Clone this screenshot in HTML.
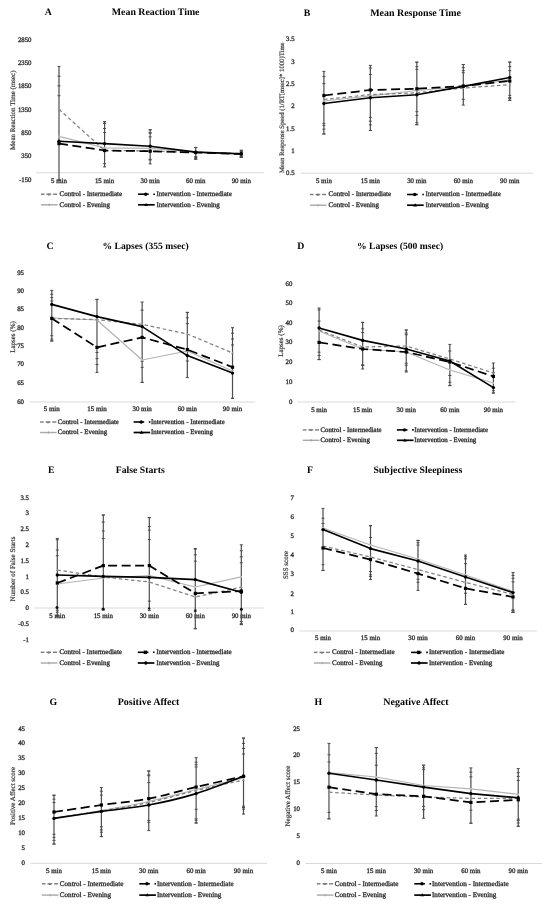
<!DOCTYPE html>
<html><head><meta charset="utf-8"><title>Figure</title>
<style>html,body{margin:0;padding:0;background:#fff;width:550px;height:908px;overflow:hidden}svg{display:block;font-family:"Liberation Serif", serif;will-change:transform;filter:blur(0.3px);text-rendering:geometricPrecision}</style>
</head><body>
<svg width="550" height="908" viewBox="0 0 550 908">
<rect width="550" height="908" fill="#ffffff"/>
<g><text x="44.8" y="15" font-size="9.8" font-weight="bold" fill="#000">A</text><text x="111.8" y="15.3" font-size="9.85" font-weight="bold" fill="#000">Mean Reaction Time</text><text x="31.5" y="41.65" font-size="6.8" fill="#383838" text-anchor="end" stroke="#383838" stroke-width="0.36">2850</text><text x="31.5" y="65.05" font-size="6.8" fill="#383838" text-anchor="end" stroke="#383838" stroke-width="0.36">2350</text><text x="31.5" y="88.35" font-size="6.8" fill="#383838" text-anchor="end" stroke="#383838" stroke-width="0.36">1850</text><text x="31.5" y="112.15" font-size="6.8" fill="#383838" text-anchor="end" stroke="#383838" stroke-width="0.36">1350</text><text x="31.5" y="135.05" font-size="6.8" fill="#383838" text-anchor="end" stroke="#383838" stroke-width="0.36">850</text><text x="31.5" y="158.45" font-size="6.8" fill="#383838" text-anchor="end" stroke="#383838" stroke-width="0.36">350</text><text x="31.5" y="181.75" font-size="6.8" fill="#383838" text-anchor="end" stroke="#383838" stroke-width="0.36">-150</text><text transform="translate(12.7,110.2) rotate(-90)" x="0" y="2.4" font-size="7" fill="#3a3a3a" text-anchor="middle" stroke="#3a3a3a" stroke-width="0.2">Mean Reaction Time (msec)</text><line x1="36.2" y1="172.8" x2="264.1" y2="172.8" stroke="#d9d9d9" stroke-width="1"/><text x="58.99" y="183.3" font-size="6.9" fill="#383838" text-anchor="middle" stroke="#383838" stroke-width="0.36">5 min</text><text x="104.57" y="183.3" font-size="6.9" fill="#383838" text-anchor="middle" stroke="#383838" stroke-width="0.36">15 min</text><text x="150.15" y="183.3" font-size="6.9" fill="#383838" text-anchor="middle" stroke="#383838" stroke-width="0.36">30 min</text><text x="195.73" y="183.3" font-size="6.9" fill="#383838" text-anchor="middle" stroke="#383838" stroke-width="0.36">60 min</text><text x="241.31" y="183.3" font-size="6.9" fill="#383838" text-anchor="middle" stroke="#383838" stroke-width="0.36">90 min</text><line x1="58.99" y1="66.4" x2="58.99" y2="180" stroke="#4d4d4d" stroke-width="1.2"/><line x1="57.49" y1="66.4" x2="60.49" y2="66.4" stroke="#4a4a4a" stroke-width="1"/><line x1="57.49" y1="180" x2="60.49" y2="180" stroke="#4a4a4a" stroke-width="1"/><line x1="57.49" y1="180" x2="60.49" y2="180" stroke="#4a4a4a" stroke-width="1"/><line x1="57.49" y1="76.2" x2="60.49" y2="76.2" stroke="#4a4a4a" stroke-width="1"/><line x1="57.49" y1="85.85" x2="60.49" y2="85.85" stroke="#4a4a4a" stroke-width="1"/><line x1="57.49" y1="95.74" x2="60.49" y2="95.74" stroke="#4a4a4a" stroke-width="1"/><line x1="104.57" y1="121.7" x2="104.57" y2="166.9" stroke="#4d4d4d" stroke-width="1.2"/><line x1="103.07" y1="121.7" x2="106.07" y2="121.7" stroke="#4a4a4a" stroke-width="1"/><line x1="103.07" y1="166.9" x2="106.07" y2="166.9" stroke="#4a4a4a" stroke-width="1"/><line x1="103.07" y1="123.56" x2="106.07" y2="123.56" stroke="#4a4a4a" stroke-width="1"/><line x1="103.07" y1="163.64" x2="106.07" y2="163.64" stroke="#4a4a4a" stroke-width="1"/><line x1="103.07" y1="128.51" x2="106.07" y2="128.51" stroke="#4a4a4a" stroke-width="1"/><line x1="103.07" y1="132.64" x2="106.07" y2="132.64" stroke="#4a4a4a" stroke-width="1"/><line x1="103.07" y1="121.7" x2="106.07" y2="121.7" stroke="#4a4a4a" stroke-width="1"/><line x1="150.15" y1="129.8" x2="150.15" y2="163.9" stroke="#4d4d4d" stroke-width="1.2"/><line x1="148.65" y1="129.8" x2="151.65" y2="129.8" stroke="#4a4a4a" stroke-width="1"/><line x1="148.65" y1="163.9" x2="151.65" y2="163.9" stroke="#4a4a4a" stroke-width="1"/><line x1="148.65" y1="133.1" x2="151.65" y2="133.1" stroke="#4a4a4a" stroke-width="1"/><line x1="148.65" y1="159.3" x2="151.65" y2="159.3" stroke="#4a4a4a" stroke-width="1"/><line x1="148.65" y1="136.87" x2="151.65" y2="136.87" stroke="#4a4a4a" stroke-width="1"/><line x1="148.65" y1="159.93" x2="151.65" y2="159.93" stroke="#4a4a4a" stroke-width="1"/><line x1="148.65" y1="129.8" x2="151.65" y2="129.8" stroke="#4a4a4a" stroke-width="1"/><line x1="148.65" y1="132.8" x2="151.65" y2="132.8" stroke="#4a4a4a" stroke-width="1"/><line x1="195.73" y1="147.4" x2="195.73" y2="159.2" stroke="#4d4d4d" stroke-width="1.2"/><line x1="194.23" y1="147.4" x2="197.23" y2="147.4" stroke="#4a4a4a" stroke-width="1"/><line x1="194.23" y1="159.2" x2="197.23" y2="159.2" stroke="#4a4a4a" stroke-width="1"/><line x1="194.23" y1="147.54" x2="197.23" y2="147.54" stroke="#4a4a4a" stroke-width="1"/><line x1="194.23" y1="156.46" x2="197.23" y2="156.46" stroke="#4a4a4a" stroke-width="1"/><line x1="194.23" y1="159.2" x2="197.23" y2="159.2" stroke="#4a4a4a" stroke-width="1"/><line x1="194.23" y1="158.26" x2="197.23" y2="158.26" stroke="#4a4a4a" stroke-width="1"/><line x1="194.23" y1="147.54" x2="197.23" y2="147.54" stroke="#4a4a4a" stroke-width="1"/><line x1="194.23" y1="157.46" x2="197.23" y2="157.46" stroke="#4a4a4a" stroke-width="1"/><line x1="241.31" y1="150.2" x2="241.31" y2="157.3" stroke="#4d4d4d" stroke-width="1.2"/><line x1="239.81" y1="150.2" x2="242.81" y2="150.2" stroke="#4a4a4a" stroke-width="1"/><line x1="239.81" y1="157.3" x2="242.81" y2="157.3" stroke="#4a4a4a" stroke-width="1"/><line x1="239.81" y1="157.3" x2="242.81" y2="157.3" stroke="#4a4a4a" stroke-width="1"/><line x1="239.81" y1="150.6" x2="242.81" y2="150.6" stroke="#4a4a4a" stroke-width="1"/><line x1="239.81" y1="156.8" x2="242.81" y2="156.8" stroke="#4a4a4a" stroke-width="1"/><line x1="239.81" y1="151.19" x2="242.81" y2="151.19" stroke="#4a4a4a" stroke-width="1"/><line x1="239.81" y1="156.81" x2="242.81" y2="156.81" stroke="#4a4a4a" stroke-width="1"/><line x1="239.81" y1="151.83" x2="242.81" y2="151.83" stroke="#4a4a4a" stroke-width="1"/><line x1="239.81" y1="157.17" x2="242.81" y2="157.17" stroke="#4a4a4a" stroke-width="1"/><path d="M58.99,136.4 L104.57,147.9 L150.15,148.4 L195.73,152 L241.31,154.5" fill="none" stroke="#b4b4b4" stroke-width="1.25" stroke-linejoin="round"/><circle cx="58.99" cy="136.4" r="0.9" fill="#bdbdbd"/><circle cx="104.57" cy="147.9" r="0.9" fill="#bdbdbd"/><circle cx="150.15" cy="148.4" r="0.9" fill="#bdbdbd"/><circle cx="195.73" cy="152" r="0.9" fill="#bdbdbd"/><circle cx="241.31" cy="154.5" r="0.9" fill="#bdbdbd"/><path d="M58.99,109.3 L104.57,150.5 L150.15,151 L195.73,152.5 L241.31,153.5" fill="none" stroke="#808080" stroke-width="1.25" stroke-dasharray="3.6 2.6" stroke-linejoin="round"/><path d="M58.99,107.9 l1.3,2.2 h-2.6 z" fill="#8f8f8f"/><path d="M104.57,149.1 l1.3,2.2 h-2.6 z" fill="#8f8f8f"/><path d="M150.15,149.6 l1.3,2.2 h-2.6 z" fill="#8f8f8f"/><path d="M195.73,151.1 l1.3,2.2 h-2.6 z" fill="#8f8f8f"/><path d="M241.31,152.1 l1.3,2.2 h-2.6 z" fill="#8f8f8f"/><path d="M58.99,143.6 L104.57,150.5 L150.15,151.2 L195.73,152.5 L241.31,154" fill="none" stroke="#000000" stroke-width="1.75" stroke-dasharray="9 4.5" stroke-linejoin="round"/><rect x="57.39" y="142" width="3.2" height="3.2" fill="#000"/><rect x="102.97" y="148.9" width="3.2" height="3.2" fill="#000"/><rect x="148.55" y="149.6" width="3.2" height="3.2" fill="#000"/><rect x="194.13" y="150.9" width="3.2" height="3.2" fill="#000"/><rect x="239.71" y="152.4" width="3.2" height="3.2" fill="#000"/><path d="M58.99,141.2 L104.57,143.6 L150.15,146.2 L195.73,152.1 L241.31,153.7" fill="none" stroke="#000000" stroke-width="1.65" stroke-linejoin="round"/><circle cx="58.99" cy="141.2" r="1.7" fill="#000"/><circle cx="104.57" cy="143.6" r="1.7" fill="#000"/><circle cx="150.15" cy="146.2" r="1.7" fill="#000"/><circle cx="195.73" cy="152.1" r="1.7" fill="#000"/><circle cx="241.31" cy="153.7" r="1.7" fill="#000"/><line x1="40.9" y1="194.2" x2="44.5" y2="194.2" stroke="#7a7a7a" stroke-width="1.4"/><line x1="46.5" y1="194.2" x2="51.3" y2="194.2" stroke="#7a7a7a" stroke-width="1.4"/><line x1="53.1" y1="194.2" x2="57.1" y2="194.2" stroke="#7a7a7a" stroke-width="1.4"/><path d="M48.9,193 l1.3,2.4 h-2.6 z" fill="#777"/><text x="59.5" y="195.9" font-size="7" fill="#383838" stroke="#383838" stroke-width="0.36">Control - Intermediate</text><line x1="40.9" y1="204.8" x2="57.5" y2="204.8" stroke="#a8a8a8" stroke-width="1.4"/><line x1="49.2" y1="203.5" x2="49.2" y2="206.1" stroke="#a0a0a0" stroke-width="0.8"/><text x="59.5" y="206.5" font-size="7" fill="#383838" stroke="#383838" stroke-width="0.36">Control - Evening</text><line x1="138.1" y1="194.2" x2="148.7" y2="194.2" stroke="#000" stroke-width="1.6"/><line x1="153.3" y1="194.2" x2="154.9" y2="194.2" stroke="#000" stroke-width="1.6"/><circle cx="145.7" cy="194.2" r="1.7" fill="#000"/><text x="156.5" y="195.9" font-size="7" fill="#383838" stroke="#383838" stroke-width="0.36">Intervention - Intermediate</text><line x1="138.1" y1="204.8" x2="154.7" y2="204.8" stroke="#000" stroke-width="1.7"/><path d="M146.1,202.9 l1.9,3.1 h-3.8 z" fill="#000"/><text x="156.5" y="206.5" font-size="7" fill="#383838" stroke="#383838" stroke-width="0.36">Intervention - Evening</text></g>
<g><text x="303.7" y="15.8" font-size="9.8" font-weight="bold" fill="#000">B</text><text x="370.2" y="15.8" font-size="9.95" font-weight="bold" fill="#000">Mean Response Time</text><text x="294.6" y="41.15" font-size="6.8" fill="#383838" text-anchor="end" stroke="#383838" stroke-width="0.36">3.5</text><text x="294.6" y="63.85" font-size="6.8" fill="#383838" text-anchor="end" stroke="#383838" stroke-width="0.36">3</text><text x="294.6" y="86.05" font-size="6.8" fill="#383838" text-anchor="end" stroke="#383838" stroke-width="0.36">2.5</text><text x="294.6" y="108.45" font-size="6.8" fill="#383838" text-anchor="end" stroke="#383838" stroke-width="0.36">2</text><text x="294.6" y="130.95" font-size="6.8" fill="#383838" text-anchor="end" stroke="#383838" stroke-width="0.36">1.5</text><text x="294.6" y="152.95" font-size="6.8" fill="#383838" text-anchor="end" stroke="#383838" stroke-width="0.36">1</text><text x="294.6" y="175.15" font-size="6.8" fill="#383838" text-anchor="end" stroke="#383838" stroke-width="0.36">0.5</text><text transform="translate(281.8,107.7) rotate(-90)" x="0" y="2.4" font-size="6.7" fill="#3a3a3a" text-anchor="middle" stroke="#3a3a3a" stroke-width="0.2">Mean Response Speed (1/RT[msec]* 1000)Time</text><line x1="300.66" y1="173.2" x2="533" y2="173.2" stroke="#d9d9d9" stroke-width="1"/><text x="323.89" y="183.1" font-size="6.9" fill="#383838" text-anchor="middle" stroke="#383838" stroke-width="0.36">5 min</text><text x="370.36" y="183.1" font-size="6.9" fill="#383838" text-anchor="middle" stroke="#383838" stroke-width="0.36">15 min</text><text x="416.83" y="183.1" font-size="6.9" fill="#383838" text-anchor="middle" stroke="#383838" stroke-width="0.36">30 min</text><text x="463.3" y="183.1" font-size="6.9" fill="#383838" text-anchor="middle" stroke="#383838" stroke-width="0.36">60 min</text><text x="509.77" y="183.1" font-size="6.9" fill="#383838" text-anchor="middle" stroke="#383838" stroke-width="0.36">90 min</text><line x1="323.89" y1="71.4" x2="323.89" y2="134" stroke="#4d4d4d" stroke-width="1.2"/><line x1="322.39" y1="71.4" x2="325.39" y2="71.4" stroke="#4a4a4a" stroke-width="1"/><line x1="322.39" y1="134" x2="325.39" y2="134" stroke="#4a4a4a" stroke-width="1"/><line x1="322.39" y1="134" x2="325.39" y2="134" stroke="#4a4a4a" stroke-width="1"/><line x1="322.39" y1="129.17" x2="325.39" y2="129.17" stroke="#4a4a4a" stroke-width="1"/><line x1="322.39" y1="76.58" x2="325.39" y2="76.58" stroke="#4a4a4a" stroke-width="1"/><line x1="322.39" y1="125.42" x2="325.39" y2="125.42" stroke="#4a4a4a" stroke-width="1"/><line x1="322.39" y1="83.6" x2="325.39" y2="83.6" stroke="#4a4a4a" stroke-width="1"/><line x1="322.39" y1="123.4" x2="325.39" y2="123.4" stroke="#4a4a4a" stroke-width="1"/><line x1="370.36" y1="65.4" x2="370.36" y2="130.5" stroke="#4d4d4d" stroke-width="1.2"/><line x1="368.86" y1="65.4" x2="371.86" y2="65.4" stroke="#4a4a4a" stroke-width="1"/><line x1="368.86" y1="130.5" x2="371.86" y2="130.5" stroke="#4a4a4a" stroke-width="1"/><line x1="368.86" y1="124.83" x2="371.86" y2="124.83" stroke="#4a4a4a" stroke-width="1"/><line x1="368.86" y1="68.03" x2="371.86" y2="68.03" stroke="#4a4a4a" stroke-width="1"/><line x1="368.86" y1="121.17" x2="371.86" y2="121.17" stroke="#4a4a4a" stroke-width="1"/><line x1="368.86" y1="74.45" x2="371.86" y2="74.45" stroke="#4a4a4a" stroke-width="1"/><line x1="368.86" y1="117.35" x2="371.86" y2="117.35" stroke="#4a4a4a" stroke-width="1"/><line x1="368.86" y1="130.5" x2="371.86" y2="130.5" stroke="#4a4a4a" stroke-width="1"/><line x1="416.83" y1="62.1" x2="416.83" y2="124.7" stroke="#4d4d4d" stroke-width="1.2"/><line x1="415.33" y1="62.1" x2="418.33" y2="62.1" stroke="#4a4a4a" stroke-width="1"/><line x1="415.33" y1="124.7" x2="418.33" y2="124.7" stroke="#4a4a4a" stroke-width="1"/><line x1="415.33" y1="62.23" x2="418.33" y2="62.23" stroke="#4a4a4a" stroke-width="1"/><line x1="415.33" y1="115.37" x2="418.33" y2="115.37" stroke="#4a4a4a" stroke-width="1"/><line x1="415.33" y1="69.3" x2="418.33" y2="69.3" stroke="#4a4a4a" stroke-width="1"/><line x1="415.33" y1="111.7" x2="418.33" y2="111.7" stroke="#4a4a4a" stroke-width="1"/><line x1="415.33" y1="124.7" x2="418.33" y2="124.7" stroke="#4a4a4a" stroke-width="1"/><line x1="415.33" y1="66.66" x2="418.33" y2="66.66" stroke="#4a4a4a" stroke-width="1"/><line x1="415.33" y1="122.74" x2="418.33" y2="122.74" stroke="#4a4a4a" stroke-width="1"/><line x1="463.3" y1="64.5" x2="463.3" y2="105.1" stroke="#4d4d4d" stroke-width="1.2"/><line x1="461.8" y1="64.5" x2="464.8" y2="64.5" stroke="#4a4a4a" stroke-width="1"/><line x1="461.8" y1="105.1" x2="464.8" y2="105.1" stroke="#4a4a4a" stroke-width="1"/><line x1="461.8" y1="72.67" x2="464.8" y2="72.67" stroke="#4a4a4a" stroke-width="1"/><line x1="461.8" y1="99.33" x2="464.8" y2="99.33" stroke="#4a4a4a" stroke-width="1"/><line x1="461.8" y1="64.5" x2="464.8" y2="64.5" stroke="#4a4a4a" stroke-width="1"/><line x1="461.8" y1="67.58" x2="464.8" y2="67.58" stroke="#4a4a4a" stroke-width="1"/><line x1="461.8" y1="70.64" x2="464.8" y2="70.64" stroke="#4a4a4a" stroke-width="1"/><line x1="509.77" y1="62.1" x2="509.77" y2="100.4" stroke="#4d4d4d" stroke-width="1.2"/><line x1="508.27" y1="62.1" x2="511.27" y2="62.1" stroke="#4a4a4a" stroke-width="1"/><line x1="508.27" y1="100.4" x2="511.27" y2="100.4" stroke="#4a4a4a" stroke-width="1"/><line x1="508.27" y1="100.4" x2="511.27" y2="100.4" stroke="#4a4a4a" stroke-width="1"/><line x1="508.27" y1="62.08" x2="511.27" y2="62.08" stroke="#4a4a4a" stroke-width="1"/><line x1="508.27" y1="97.52" x2="511.27" y2="97.52" stroke="#4a4a4a" stroke-width="1"/><line x1="508.27" y1="66.64" x2="511.27" y2="66.64" stroke="#4a4a4a" stroke-width="1"/><line x1="508.27" y1="95.36" x2="511.27" y2="95.36" stroke="#4a4a4a" stroke-width="1"/><line x1="508.27" y1="70.65" x2="511.27" y2="70.65" stroke="#4a4a4a" stroke-width="1"/><line x1="508.27" y1="98.55" x2="511.27" y2="98.55" stroke="#4a4a4a" stroke-width="1"/><path d="M323.89,101 L370.36,95.9 L416.83,90.5 L463.3,86.5 L509.77,79.8" fill="none" stroke="#b4b4b4" stroke-width="1.25" stroke-linejoin="round"/><circle cx="323.89" cy="101" r="0.9" fill="#bdbdbd"/><circle cx="370.36" cy="95.9" r="0.9" fill="#bdbdbd"/><circle cx="416.83" cy="90.5" r="0.9" fill="#bdbdbd"/><circle cx="463.3" cy="86.5" r="0.9" fill="#bdbdbd"/><circle cx="509.77" cy="79.8" r="0.9" fill="#bdbdbd"/><path d="M323.89,99.5 L370.36,94.6 L416.83,92.8 L463.3,88.1 L509.77,84.6" fill="none" stroke="#808080" stroke-width="1.25" stroke-dasharray="3.6 2.6" stroke-linejoin="round"/><path d="M323.89,98.1 l1.3,2.2 h-2.6 z" fill="#8f8f8f"/><path d="M370.36,93.2 l1.3,2.2 h-2.6 z" fill="#8f8f8f"/><path d="M416.83,91.4 l1.3,2.2 h-2.6 z" fill="#8f8f8f"/><path d="M463.3,86.7 l1.3,2.2 h-2.6 z" fill="#8f8f8f"/><path d="M509.77,83.2 l1.3,2.2 h-2.6 z" fill="#8f8f8f"/><path d="M323.89,95.5 L370.36,90 L416.83,88.8 L463.3,86 L509.77,81" fill="none" stroke="#000000" stroke-width="1.75" stroke-dasharray="9 4.5" stroke-linejoin="round"/><rect x="322.29" y="93.9" width="3.2" height="3.2" fill="#000"/><rect x="368.76" y="88.4" width="3.2" height="3.2" fill="#000"/><rect x="415.23" y="87.2" width="3.2" height="3.2" fill="#000"/><rect x="461.7" y="84.4" width="3.2" height="3.2" fill="#000"/><rect x="508.17" y="79.4" width="3.2" height="3.2" fill="#000"/><path d="M323.89,103.5 L370.36,97.7 L416.83,94.7 L463.3,86.4 L509.77,77.5" fill="none" stroke="#000000" stroke-width="1.65" stroke-linejoin="round"/><circle cx="323.89" cy="103.5" r="1.7" fill="#000"/><circle cx="370.36" cy="97.7" r="1.7" fill="#000"/><circle cx="416.83" cy="94.7" r="1.7" fill="#000"/><circle cx="463.3" cy="86.4" r="1.7" fill="#000"/><circle cx="509.77" cy="77.5" r="1.7" fill="#000"/><line x1="309.9" y1="194.5" x2="313.5" y2="194.5" stroke="#7a7a7a" stroke-width="1.4"/><line x1="315.5" y1="194.5" x2="320.3" y2="194.5" stroke="#7a7a7a" stroke-width="1.4"/><line x1="322.1" y1="194.5" x2="326.1" y2="194.5" stroke="#7a7a7a" stroke-width="1.4"/><path d="M317.9,193.3 l1.3,2.4 h-2.6 z" fill="#777"/><text x="328.5" y="196.2" font-size="7" fill="#383838" stroke="#383838" stroke-width="0.36">Control - Intermediate</text><line x1="309.9" y1="205.2" x2="326.5" y2="205.2" stroke="#a8a8a8" stroke-width="1.4"/><line x1="318.2" y1="203.9" x2="318.2" y2="206.5" stroke="#a0a0a0" stroke-width="0.8"/><text x="328.5" y="206.9" font-size="7" fill="#383838" stroke="#383838" stroke-width="0.36">Control - Evening</text><line x1="407.1" y1="194.5" x2="417.7" y2="194.5" stroke="#000" stroke-width="1.6"/><line x1="422.3" y1="194.5" x2="423.9" y2="194.5" stroke="#000" stroke-width="1.6"/><circle cx="414.7" cy="194.5" r="1.7" fill="#000"/><text x="425.5" y="196.2" font-size="7" fill="#383838" stroke="#383838" stroke-width="0.36">Intervention - Intermediate</text><line x1="407.1" y1="205.2" x2="423.7" y2="205.2" stroke="#000" stroke-width="1.7"/><path d="M415.1,203.3 l1.9,3.1 h-3.8 z" fill="#000"/><text x="425.5" y="206.9" font-size="7" fill="#383838" stroke="#383838" stroke-width="0.36">Intervention - Evening</text></g>
<g><text x="46.4" y="249" font-size="9.8" font-weight="bold" fill="#000">C</text><text x="102.6" y="249" font-size="9.6" font-weight="bold" fill="#000">% Lapses (355 msec)</text><text x="24" y="274.95" font-size="6.8" fill="#383838" text-anchor="end" stroke="#383838" stroke-width="0.36">95</text><text x="24" y="292.95" font-size="6.8" fill="#383838" text-anchor="end" stroke="#383838" stroke-width="0.36">90</text><text x="24" y="310.95" font-size="6.8" fill="#383838" text-anchor="end" stroke="#383838" stroke-width="0.36">85</text><text x="24" y="329.55" font-size="6.8" fill="#383838" text-anchor="end" stroke="#383838" stroke-width="0.36">80</text><text x="24" y="347.95" font-size="6.8" fill="#383838" text-anchor="end" stroke="#383838" stroke-width="0.36">75</text><text x="24" y="366.35" font-size="6.8" fill="#383838" text-anchor="end" stroke="#383838" stroke-width="0.36">70</text><text x="24" y="384.55" font-size="6.8" fill="#383838" text-anchor="end" stroke="#383838" stroke-width="0.36">65</text><text x="24" y="403.55" font-size="6.8" fill="#383838" text-anchor="end" stroke="#383838" stroke-width="0.36">60</text><text transform="translate(12.4,337) rotate(-90)" x="0" y="2.4" font-size="7" fill="#3a3a3a" text-anchor="middle" stroke="#3a3a3a" stroke-width="0.2">Lapses (%)</text><line x1="29.2" y1="402" x2="255.1" y2="402" stroke="#d9d9d9" stroke-width="1"/><text x="51.79" y="410.8" font-size="6.9" fill="#383838" text-anchor="middle" stroke="#383838" stroke-width="0.36">5 min</text><text x="96.97" y="410.8" font-size="6.9" fill="#383838" text-anchor="middle" stroke="#383838" stroke-width="0.36">15 min</text><text x="142.15" y="410.8" font-size="6.9" fill="#383838" text-anchor="middle" stroke="#383838" stroke-width="0.36">30 min</text><text x="187.33" y="410.8" font-size="6.9" fill="#383838" text-anchor="middle" stroke="#383838" stroke-width="0.36">60 min</text><text x="232.51" y="410.8" font-size="6.9" fill="#383838" text-anchor="middle" stroke="#383838" stroke-width="0.36">90 min</text><line x1="51.79" y1="290.4" x2="51.79" y2="341" stroke="#4d4d4d" stroke-width="1.2"/><line x1="50.29" y1="290.4" x2="53.29" y2="290.4" stroke="#4a4a4a" stroke-width="1"/><line x1="50.29" y1="341" x2="53.29" y2="341" stroke="#4a4a4a" stroke-width="1"/><line x1="50.29" y1="341" x2="53.29" y2="341" stroke="#4a4a4a" stroke-width="1"/><line x1="50.29" y1="294.26" x2="53.29" y2="294.26" stroke="#4a4a4a" stroke-width="1"/><line x1="50.29" y1="297.68" x2="53.29" y2="297.68" stroke="#4a4a4a" stroke-width="1"/><line x1="50.29" y1="339.12" x2="53.29" y2="339.12" stroke="#4a4a4a" stroke-width="1"/><line x1="50.29" y1="301.04" x2="53.29" y2="301.04" stroke="#4a4a4a" stroke-width="1"/><line x1="50.29" y1="335.76" x2="53.29" y2="335.76" stroke="#4a4a4a" stroke-width="1"/><line x1="96.97" y1="299.4" x2="96.97" y2="372.4" stroke="#4d4d4d" stroke-width="1.2"/><line x1="95.47" y1="299.4" x2="98.47" y2="299.4" stroke="#4a4a4a" stroke-width="1"/><line x1="95.47" y1="372.4" x2="98.47" y2="372.4" stroke="#4a4a4a" stroke-width="1"/><line x1="95.47" y1="364.59" x2="98.47" y2="364.59" stroke="#4a4a4a" stroke-width="1"/><line x1="95.47" y1="358.67" x2="98.47" y2="358.67" stroke="#4a4a4a" stroke-width="1"/><line x1="95.47" y1="352.49" x2="98.47" y2="352.49" stroke="#4a4a4a" stroke-width="1"/><line x1="95.47" y1="299.4" x2="98.47" y2="299.4" stroke="#4a4a4a" stroke-width="1"/><line x1="142.15" y1="302" x2="142.15" y2="382.4" stroke="#4d4d4d" stroke-width="1.2"/><line x1="140.65" y1="302" x2="143.65" y2="302" stroke="#4a4a4a" stroke-width="1"/><line x1="140.65" y1="382.4" x2="143.65" y2="382.4" stroke="#4a4a4a" stroke-width="1"/><line x1="140.65" y1="367.32" x2="143.65" y2="367.32" stroke="#4a4a4a" stroke-width="1"/><line x1="140.65" y1="361.2" x2="143.65" y2="361.2" stroke="#4a4a4a" stroke-width="1"/><line x1="140.65" y1="382.4" x2="143.65" y2="382.4" stroke="#4a4a4a" stroke-width="1"/><line x1="140.65" y1="310.12" x2="143.65" y2="310.12" stroke="#4a4a4a" stroke-width="1"/><line x1="187.33" y1="312.4" x2="187.33" y2="377.6" stroke="#4d4d4d" stroke-width="1.2"/><line x1="185.83" y1="312.4" x2="188.83" y2="312.4" stroke="#4a4a4a" stroke-width="1"/><line x1="185.83" y1="377.6" x2="188.83" y2="377.6" stroke="#4a4a4a" stroke-width="1"/><line x1="185.83" y1="361.03" x2="188.83" y2="361.03" stroke="#4a4a4a" stroke-width="1"/><line x1="185.83" y1="312.4" x2="188.83" y2="312.4" stroke="#4a4a4a" stroke-width="1"/><line x1="185.83" y1="317.8" x2="188.83" y2="317.8" stroke="#4a4a4a" stroke-width="1"/><line x1="185.83" y1="323.63" x2="188.83" y2="323.63" stroke="#4a4a4a" stroke-width="1"/><line x1="232.51" y1="327.7" x2="232.51" y2="398.3" stroke="#4d4d4d" stroke-width="1.2"/><line x1="231.01" y1="327.7" x2="234.01" y2="327.7" stroke="#4a4a4a" stroke-width="1"/><line x1="231.01" y1="398.3" x2="234.01" y2="398.3" stroke="#4a4a4a" stroke-width="1"/><line x1="231.01" y1="398.3" x2="234.01" y2="398.3" stroke="#4a4a4a" stroke-width="1"/><line x1="231.01" y1="333.23" x2="234.01" y2="333.23" stroke="#4a4a4a" stroke-width="1"/><line x1="231.01" y1="338.96" x2="234.01" y2="338.96" stroke="#4a4a4a" stroke-width="1"/><line x1="231.01" y1="344.95" x2="234.01" y2="344.95" stroke="#4a4a4a" stroke-width="1"/><path d="M51.79,318 L96.97,320 L142.15,360 L187.33,351 L232.51,371" fill="none" stroke="#b4b4b4" stroke-width="1.25" stroke-linejoin="round"/><circle cx="51.79" cy="318" r="0.9" fill="#bdbdbd"/><circle cx="96.97" cy="320" r="0.9" fill="#bdbdbd"/><circle cx="142.15" cy="360" r="0.9" fill="#bdbdbd"/><circle cx="187.33" cy="351" r="0.9" fill="#bdbdbd"/><circle cx="232.51" cy="371" r="0.9" fill="#bdbdbd"/><path d="M51.79,318.4 L96.97,319.6 L142.15,324.4 L187.33,334 L232.51,353" fill="none" stroke="#808080" stroke-width="1.25" stroke-dasharray="3.6 2.6" stroke-linejoin="round"/><path d="M51.79,317 l1.3,2.2 h-2.6 z" fill="#8f8f8f"/><path d="M96.97,318.2 l1.3,2.2 h-2.6 z" fill="#8f8f8f"/><path d="M142.15,323 l1.3,2.2 h-2.6 z" fill="#8f8f8f"/><path d="M187.33,332.6 l1.3,2.2 h-2.6 z" fill="#8f8f8f"/><path d="M232.51,351.6 l1.3,2.2 h-2.6 z" fill="#8f8f8f"/><path d="M51.79,318.4 L96.97,347.4 L142.15,337.4 L187.33,349.6 L232.51,367.2" fill="none" stroke="#000000" stroke-width="1.75" stroke-dasharray="9 4.5" stroke-linejoin="round"/><rect x="50.19" y="316.8" width="3.2" height="3.2" fill="#000"/><rect x="95.37" y="345.8" width="3.2" height="3.2" fill="#000"/><rect x="140.55" y="335.8" width="3.2" height="3.2" fill="#000"/><rect x="185.73" y="348" width="3.2" height="3.2" fill="#000"/><rect x="230.91" y="365.6" width="3.2" height="3.2" fill="#000"/><path d="M51.79,304.4 L96.97,316.6 L142.15,326.6 L187.33,355.6 L232.51,373.1" fill="none" stroke="#000000" stroke-width="1.65" stroke-linejoin="round"/><circle cx="51.79" cy="304.4" r="1.7" fill="#000"/><circle cx="96.97" cy="316.6" r="1.7" fill="#000"/><circle cx="142.15" cy="326.6" r="1.7" fill="#000"/><circle cx="187.33" cy="355.6" r="1.7" fill="#000"/><circle cx="232.51" cy="373.1" r="1.7" fill="#000"/><line x1="40.1" y1="422" x2="43.7" y2="422" stroke="#7a7a7a" stroke-width="1.4"/><line x1="45.7" y1="422" x2="50.5" y2="422" stroke="#7a7a7a" stroke-width="1.4"/><line x1="52.3" y1="422" x2="56.3" y2="422" stroke="#7a7a7a" stroke-width="1.4"/><path d="M48.1,420.8 l1.3,2.4 h-2.6 z" fill="#777"/><text x="57.7" y="423.7" font-size="6.85" fill="#383838" stroke="#383838" stroke-width="0.36">Control - Intermediate</text><line x1="40.1" y1="432.5" x2="56.7" y2="432.5" stroke="#a8a8a8" stroke-width="1.4"/><line x1="48.4" y1="431.2" x2="48.4" y2="433.8" stroke="#a0a0a0" stroke-width="0.8"/><text x="57.7" y="434.2" font-size="6.85" fill="#383838" stroke="#383838" stroke-width="0.36">Control - Evening</text><line x1="133.6" y1="422" x2="144.2" y2="422" stroke="#000" stroke-width="1.6"/><line x1="148.8" y1="422" x2="150.4" y2="422" stroke="#000" stroke-width="1.6"/><circle cx="141.2" cy="422" r="1.7" fill="#000"/><text x="151" y="423.7" font-size="6.85" fill="#383838" stroke="#383838" stroke-width="0.36">Intervention - Intermediate</text><line x1="133.6" y1="432.5" x2="150.2" y2="432.5" stroke="#000" stroke-width="1.7"/><path d="M141.6,430.6 l1.9,3.1 h-3.8 z" fill="#000"/><text x="151" y="434.2" font-size="6.85" fill="#383838" stroke="#383838" stroke-width="0.36">Intervention - Evening</text></g>
<g><text x="297.2" y="248.7" font-size="9.8" font-weight="bold" fill="#000">D</text><text x="357.1" y="248.7" font-size="9.6" font-weight="bold" fill="#000">% Lapses (500 msec)</text><text x="292.4" y="285.55" font-size="6.8" fill="#383838" text-anchor="end" stroke="#383838" stroke-width="0.36">60</text><text x="292.4" y="304.95" font-size="6.8" fill="#383838" text-anchor="end" stroke="#383838" stroke-width="0.36">50</text><text x="292.4" y="324.95" font-size="6.8" fill="#383838" text-anchor="end" stroke="#383838" stroke-width="0.36">40</text><text x="292.4" y="344.35" font-size="6.8" fill="#383838" text-anchor="end" stroke="#383838" stroke-width="0.36">30</text><text x="292.4" y="364.35" font-size="6.8" fill="#383838" text-anchor="end" stroke="#383838" stroke-width="0.36">20</text><text x="292.4" y="383.95" font-size="6.8" fill="#383838" text-anchor="end" stroke="#383838" stroke-width="0.36">10</text><text x="292.4" y="403.95" font-size="6.8" fill="#383838" text-anchor="end" stroke="#383838" stroke-width="0.36">0</text><text transform="translate(280.6,341) rotate(-90)" x="0" y="2.4" font-size="7" fill="#3a3a3a" text-anchor="middle" stroke="#3a3a3a" stroke-width="0.2">Lapses (%)</text><line x1="297.3" y1="402" x2="515.2" y2="402" stroke="#d9d9d9" stroke-width="1"/><text x="319.09" y="412" font-size="6.9" fill="#383838" text-anchor="middle" stroke="#383838" stroke-width="0.36">5 min</text><text x="362.67" y="412" font-size="6.9" fill="#383838" text-anchor="middle" stroke="#383838" stroke-width="0.36">15 min</text><text x="406.25" y="412" font-size="6.9" fill="#383838" text-anchor="middle" stroke="#383838" stroke-width="0.36">30 min</text><text x="449.83" y="412" font-size="6.9" fill="#383838" text-anchor="middle" stroke="#383838" stroke-width="0.36">60 min</text><text x="493.41" y="412" font-size="6.9" fill="#383838" text-anchor="middle" stroke="#383838" stroke-width="0.36">90 min</text><line x1="319.09" y1="308" x2="319.09" y2="359.6" stroke="#4d4d4d" stroke-width="1.2"/><line x1="317.59" y1="308" x2="320.59" y2="308" stroke="#4a4a4a" stroke-width="1"/><line x1="317.59" y1="359.6" x2="320.59" y2="359.6" stroke="#4a4a4a" stroke-width="1"/><line x1="317.59" y1="359.6" x2="320.59" y2="359.6" stroke="#4a4a4a" stroke-width="1"/><line x1="317.59" y1="355.46" x2="320.59" y2="355.46" stroke="#4a4a4a" stroke-width="1"/><line x1="317.59" y1="309.84" x2="320.59" y2="309.84" stroke="#4a4a4a" stroke-width="1"/><line x1="317.59" y1="352.16" x2="320.59" y2="352.16" stroke="#4a4a4a" stroke-width="1"/><line x1="317.59" y1="321.07" x2="320.59" y2="321.07" stroke="#4a4a4a" stroke-width="1"/><line x1="362.67" y1="322.4" x2="362.67" y2="369" stroke="#4d4d4d" stroke-width="1.2"/><line x1="361.17" y1="322.4" x2="364.17" y2="322.4" stroke="#4a4a4a" stroke-width="1"/><line x1="361.17" y1="369" x2="364.17" y2="369" stroke="#4a4a4a" stroke-width="1"/><line x1="361.17" y1="365" x2="364.17" y2="365" stroke="#4a4a4a" stroke-width="1"/><line x1="361.17" y1="328.8" x2="364.17" y2="328.8" stroke="#4a4a4a" stroke-width="1"/><line x1="361.17" y1="365.2" x2="364.17" y2="365.2" stroke="#4a4a4a" stroke-width="1"/><line x1="361.17" y1="332.51" x2="364.17" y2="332.51" stroke="#4a4a4a" stroke-width="1"/><line x1="361.17" y1="365.49" x2="364.17" y2="365.49" stroke="#4a4a4a" stroke-width="1"/><line x1="361.17" y1="322.4" x2="364.17" y2="322.4" stroke="#4a4a4a" stroke-width="1"/><line x1="406.25" y1="330" x2="406.25" y2="372" stroke="#4d4d4d" stroke-width="1.2"/><line x1="404.75" y1="330" x2="407.75" y2="330" stroke="#4a4a4a" stroke-width="1"/><line x1="404.75" y1="372" x2="407.75" y2="372" stroke="#4a4a4a" stroke-width="1"/><line x1="404.75" y1="365.24" x2="407.75" y2="365.24" stroke="#4a4a4a" stroke-width="1"/><line x1="404.75" y1="334.74" x2="407.75" y2="334.74" stroke="#4a4a4a" stroke-width="1"/><line x1="404.75" y1="363.26" x2="407.75" y2="363.26" stroke="#4a4a4a" stroke-width="1"/><line x1="404.75" y1="330" x2="407.75" y2="330" stroke="#4a4a4a" stroke-width="1"/><line x1="404.75" y1="333.08" x2="407.75" y2="333.08" stroke="#4a4a4a" stroke-width="1"/><line x1="404.75" y1="370.92" x2="407.75" y2="370.92" stroke="#4a4a4a" stroke-width="1"/><line x1="449.83" y1="344.4" x2="449.83" y2="385.6" stroke="#4d4d4d" stroke-width="1.2"/><line x1="448.33" y1="344.4" x2="451.33" y2="344.4" stroke="#4a4a4a" stroke-width="1"/><line x1="448.33" y1="385.6" x2="451.33" y2="385.6" stroke="#4a4a4a" stroke-width="1"/><line x1="448.33" y1="375.49" x2="451.33" y2="375.49" stroke="#4a4a4a" stroke-width="1"/><line x1="448.33" y1="385.6" x2="451.33" y2="385.6" stroke="#4a4a4a" stroke-width="1"/><line x1="448.33" y1="382.3" x2="451.33" y2="382.3" stroke="#4a4a4a" stroke-width="1"/><line x1="448.33" y1="351.06" x2="451.33" y2="351.06" stroke="#4a4a4a" stroke-width="1"/><line x1="493.41" y1="363" x2="493.41" y2="393" stroke="#4d4d4d" stroke-width="1.2"/><line x1="491.91" y1="363" x2="494.91" y2="363" stroke="#4a4a4a" stroke-width="1"/><line x1="491.91" y1="393" x2="494.91" y2="393" stroke="#4a4a4a" stroke-width="1"/><line x1="491.91" y1="393" x2="494.91" y2="393" stroke="#4a4a4a" stroke-width="1"/><line x1="491.91" y1="390.68" x2="494.91" y2="390.68" stroke="#4a4a4a" stroke-width="1"/><line x1="491.91" y1="368.2" x2="494.91" y2="368.2" stroke="#4a4a4a" stroke-width="1"/><line x1="491.91" y1="372.35" x2="494.91" y2="372.35" stroke="#4a4a4a" stroke-width="1"/><path d="M319.09,331 L362.67,349 L406.25,352 L449.83,370 L493.41,383" fill="none" stroke="#b4b4b4" stroke-width="1.25" stroke-linejoin="round"/><circle cx="319.09" cy="331" r="0.9" fill="#bdbdbd"/><circle cx="362.67" cy="349" r="0.9" fill="#bdbdbd"/><circle cx="406.25" cy="352" r="0.9" fill="#bdbdbd"/><circle cx="449.83" cy="370" r="0.9" fill="#bdbdbd"/><circle cx="493.41" cy="383" r="0.9" fill="#bdbdbd"/><path d="M319.09,330 L362.67,347 L406.25,346 L449.83,359 L493.41,373" fill="none" stroke="#808080" stroke-width="1.25" stroke-dasharray="3.6 2.6" stroke-linejoin="round"/><path d="M319.09,328.6 l1.3,2.2 h-2.6 z" fill="#8f8f8f"/><path d="M362.67,345.6 l1.3,2.2 h-2.6 z" fill="#8f8f8f"/><path d="M406.25,344.6 l1.3,2.2 h-2.6 z" fill="#8f8f8f"/><path d="M449.83,357.6 l1.3,2.2 h-2.6 z" fill="#8f8f8f"/><path d="M493.41,371.6 l1.3,2.2 h-2.6 z" fill="#8f8f8f"/><path d="M319.09,342.4 L362.67,349 L406.25,352 L449.83,362 L493.41,376.4" fill="none" stroke="#000000" stroke-width="1.75" stroke-dasharray="9 4.5" stroke-linejoin="round"/><rect x="317.49" y="340.8" width="3.2" height="3.2" fill="#000"/><rect x="361.07" y="347.4" width="3.2" height="3.2" fill="#000"/><rect x="404.65" y="350.4" width="3.2" height="3.2" fill="#000"/><rect x="448.23" y="360.4" width="3.2" height="3.2" fill="#000"/><rect x="491.81" y="374.8" width="3.2" height="3.2" fill="#000"/><path d="M319.09,328 L362.67,340.4 L406.25,349 L449.83,361 L493.41,387.6" fill="none" stroke="#000000" stroke-width="1.65" stroke-linejoin="round"/><circle cx="319.09" cy="328" r="1.7" fill="#000"/><circle cx="362.67" cy="340.4" r="1.7" fill="#000"/><circle cx="406.25" cy="349" r="1.7" fill="#000"/><circle cx="449.83" cy="361" r="1.7" fill="#000"/><circle cx="493.41" cy="387.6" r="1.7" fill="#000"/><line x1="302.8" y1="429.9" x2="306.4" y2="429.9" stroke="#7a7a7a" stroke-width="1.4"/><line x1="308.4" y1="429.9" x2="313.2" y2="429.9" stroke="#7a7a7a" stroke-width="1.4"/><line x1="315" y1="429.9" x2="319" y2="429.9" stroke="#7a7a7a" stroke-width="1.4"/><path d="M310.8,428.7 l1.3,2.4 h-2.6 z" fill="#777"/><text x="320.4" y="431.6" font-size="6.85" fill="#383838" stroke="#383838" stroke-width="0.36">Control - Intermediate</text><line x1="302.8" y1="440.3" x2="319.4" y2="440.3" stroke="#a8a8a8" stroke-width="1.4"/><line x1="311.1" y1="439" x2="311.1" y2="441.6" stroke="#a0a0a0" stroke-width="0.8"/><text x="320.4" y="442" font-size="6.85" fill="#383838" stroke="#383838" stroke-width="0.36">Control - Evening</text><line x1="396.9" y1="429.9" x2="407.5" y2="429.9" stroke="#000" stroke-width="1.6"/><line x1="412.1" y1="429.9" x2="413.7" y2="429.9" stroke="#000" stroke-width="1.6"/><circle cx="404.5" cy="429.9" r="1.7" fill="#000"/><text x="414.3" y="431.6" font-size="6.85" fill="#383838" stroke="#383838" stroke-width="0.36">Intervention - Intermediate</text><line x1="396.9" y1="440.3" x2="413.5" y2="440.3" stroke="#000" stroke-width="1.7"/><path d="M404.9,438.4 l1.9,3.1 h-3.8 z" fill="#000"/><text x="414.3" y="442" font-size="6.85" fill="#383838" stroke="#383838" stroke-width="0.36">Intervention - Evening</text></g>
<g><text x="48" y="472.8" font-size="9.8" font-weight="bold" fill="#000">E</text><text x="115.7" y="472.8" font-size="9.75" font-weight="bold" fill="#000">False Starts</text><text x="29" y="499.95" font-size="6.8" fill="#383838" text-anchor="end" stroke="#383838" stroke-width="0.36">3.5</text><text x="29" y="515.35" font-size="6.8" fill="#383838" text-anchor="end" stroke="#383838" stroke-width="0.36">3</text><text x="29" y="531.35" font-size="6.8" fill="#383838" text-anchor="end" stroke="#383838" stroke-width="0.36">2.5</text><text x="29" y="547.35" font-size="6.8" fill="#383838" text-anchor="end" stroke="#383838" stroke-width="0.36">2</text><text x="29" y="562.95" font-size="6.8" fill="#383838" text-anchor="end" stroke="#383838" stroke-width="0.36">1.5</text><text x="29" y="578.55" font-size="6.8" fill="#383838" text-anchor="end" stroke="#383838" stroke-width="0.36">1</text><text x="29" y="594.35" font-size="6.8" fill="#383838" text-anchor="end" stroke="#383838" stroke-width="0.36">0.5</text><text x="29" y="609.55" font-size="6.8" fill="#383838" text-anchor="end" stroke="#383838" stroke-width="0.36">0</text><text x="29" y="625.55" font-size="6.8" fill="#383838" text-anchor="end" stroke="#383838" stroke-width="0.36">-0.5</text><text x="29" y="641.55" font-size="6.8" fill="#383838" text-anchor="end" stroke="#383838" stroke-width="0.36">-1</text><text transform="translate(12.4,569) rotate(-90)" x="0" y="2.4" font-size="7" fill="#3a3a3a" text-anchor="middle" stroke="#3a3a3a" stroke-width="0.2">Number of False Starts</text><line x1="34.3" y1="608" x2="264.3" y2="608" stroke="#d9d9d9" stroke-width="1"/><text x="57.3" y="618.3" font-size="6.9" fill="#383838" text-anchor="middle" stroke="#383838" stroke-width="0.36">5 min</text><text x="103.3" y="618.3" font-size="6.9" fill="#383838" text-anchor="middle" stroke="#383838" stroke-width="0.36">15 min</text><text x="149.3" y="618.3" font-size="6.9" fill="#383838" text-anchor="middle" stroke="#383838" stroke-width="0.36">30 min</text><text x="195.3" y="618.3" font-size="6.9" fill="#383838" text-anchor="middle" stroke="#383838" stroke-width="0.36">60 min</text><text x="241.3" y="618.3" font-size="6.9" fill="#383838" text-anchor="middle" stroke="#383838" stroke-width="0.36">90 min</text><line x1="57.3" y1="538.4" x2="57.3" y2="616" stroke="#4d4d4d" stroke-width="1.2"/><line x1="55.8" y1="538.4" x2="58.8" y2="538.4" stroke="#4a4a4a" stroke-width="1"/><line x1="55.8" y1="616" x2="58.8" y2="616" stroke="#4a4a4a" stroke-width="1"/><line x1="55.8" y1="616" x2="58.8" y2="616" stroke="#4a4a4a" stroke-width="1"/><line x1="55.8" y1="539.74" x2="58.8" y2="539.74" stroke="#4a4a4a" stroke-width="1"/><line x1="55.8" y1="610.26" x2="58.8" y2="610.26" stroke="#4a4a4a" stroke-width="1"/><line x1="55.8" y1="550" x2="58.8" y2="550" stroke="#4a4a4a" stroke-width="1"/><line x1="55.8" y1="616" x2="58.8" y2="616" stroke="#4a4a4a" stroke-width="1"/><line x1="55.8" y1="555.73" x2="58.8" y2="555.73" stroke="#4a4a4a" stroke-width="1"/><line x1="55.8" y1="612.27" x2="58.8" y2="612.27" stroke="#4a4a4a" stroke-width="1"/><line x1="103.3" y1="515" x2="103.3" y2="610" stroke="#4d4d4d" stroke-width="1.2"/><line x1="101.8" y1="515" x2="104.8" y2="515" stroke="#4a4a4a" stroke-width="1"/><line x1="101.8" y1="610" x2="104.8" y2="610" stroke="#4a4a4a" stroke-width="1"/><line x1="101.8" y1="522.08" x2="104.8" y2="522.08" stroke="#4a4a4a" stroke-width="1"/><line x1="101.8" y1="609.12" x2="104.8" y2="609.12" stroke="#4a4a4a" stroke-width="1"/><line x1="101.8" y1="530.96" x2="104.8" y2="530.96" stroke="#4a4a4a" stroke-width="1"/><line x1="101.8" y1="538.56" x2="104.8" y2="538.56" stroke="#4a4a4a" stroke-width="1"/><line x1="101.8" y1="515" x2="104.8" y2="515" stroke="#4a4a4a" stroke-width="1"/><line x1="149.3" y1="517.6" x2="149.3" y2="610.6" stroke="#4d4d4d" stroke-width="1.2"/><line x1="147.8" y1="517.6" x2="150.8" y2="517.6" stroke="#4a4a4a" stroke-width="1"/><line x1="147.8" y1="610.6" x2="150.8" y2="610.6" stroke="#4a4a4a" stroke-width="1"/><line x1="147.8" y1="530.08" x2="150.8" y2="530.08" stroke="#4a4a4a" stroke-width="1"/><line x1="147.8" y1="601.12" x2="150.8" y2="601.12" stroke="#4a4a4a" stroke-width="1"/><line x1="147.8" y1="539.64" x2="150.8" y2="539.64" stroke="#4a4a4a" stroke-width="1"/><line x1="147.8" y1="517.6" x2="150.8" y2="517.6" stroke="#4a4a4a" stroke-width="1"/><line x1="147.8" y1="526.62" x2="150.8" y2="526.62" stroke="#4a4a4a" stroke-width="1"/><line x1="195.3" y1="548.5" x2="195.3" y2="628.7" stroke="#4d4d4d" stroke-width="1.2"/><line x1="193.8" y1="548.5" x2="196.8" y2="548.5" stroke="#4a4a4a" stroke-width="1"/><line x1="193.8" y1="628.7" x2="196.8" y2="628.7" stroke="#4a4a4a" stroke-width="1"/><line x1="193.8" y1="549.16" x2="196.8" y2="549.16" stroke="#4a4a4a" stroke-width="1"/><line x1="193.8" y1="610.04" x2="196.8" y2="610.04" stroke="#4a4a4a" stroke-width="1"/><line x1="193.8" y1="628.7" x2="196.8" y2="628.7" stroke="#4a4a4a" stroke-width="1"/><line x1="193.8" y1="554.79" x2="196.8" y2="554.79" stroke="#4a4a4a" stroke-width="1"/><line x1="193.8" y1="561.11" x2="196.8" y2="561.11" stroke="#4a4a4a" stroke-width="1"/><line x1="241.3" y1="544.8" x2="241.3" y2="624.6" stroke="#4d4d4d" stroke-width="1.2"/><line x1="239.8" y1="544.8" x2="242.8" y2="544.8" stroke="#4a4a4a" stroke-width="1"/><line x1="239.8" y1="624.6" x2="242.8" y2="624.6" stroke="#4a4a4a" stroke-width="1"/><line x1="239.8" y1="624.6" x2="242.8" y2="624.6" stroke="#4a4a4a" stroke-width="1"/><line x1="239.8" y1="550.74" x2="242.8" y2="550.74" stroke="#4a4a4a" stroke-width="1"/><line x1="239.8" y1="623.66" x2="242.8" y2="623.66" stroke="#4a4a4a" stroke-width="1"/><line x1="239.8" y1="556.81" x2="242.8" y2="556.81" stroke="#4a4a4a" stroke-width="1"/><line x1="239.8" y1="562.81" x2="242.8" y2="562.81" stroke="#4a4a4a" stroke-width="1"/><line x1="239.8" y1="621.59" x2="242.8" y2="621.59" stroke="#4a4a4a" stroke-width="1"/><path d="M57.3,584 L103.3,578 L149.3,575.6 L195.3,587 L241.3,576.9" fill="none" stroke="#b4b4b4" stroke-width="1.25" stroke-linejoin="round"/><circle cx="57.3" cy="584" r="0.9" fill="#bdbdbd"/><circle cx="103.3" cy="578" r="0.9" fill="#bdbdbd"/><circle cx="149.3" cy="575.6" r="0.9" fill="#bdbdbd"/><circle cx="195.3" cy="587" r="0.9" fill="#bdbdbd"/><circle cx="241.3" cy="576.9" r="0.9" fill="#bdbdbd"/><path d="M57.3,570 L103.3,577 L149.3,582 L195.3,597 L241.3,587.2" fill="none" stroke="#808080" stroke-width="1.25" stroke-dasharray="3.6 2.6" stroke-linejoin="round"/><path d="M57.3,568.6 l1.3,2.2 h-2.6 z" fill="#8f8f8f"/><path d="M103.3,575.6 l1.3,2.2 h-2.6 z" fill="#8f8f8f"/><path d="M149.3,580.6 l1.3,2.2 h-2.6 z" fill="#8f8f8f"/><path d="M195.3,595.6 l1.3,2.2 h-2.6 z" fill="#8f8f8f"/><path d="M241.3,585.8 l1.3,2.2 h-2.6 z" fill="#8f8f8f"/><path d="M57.3,583 L103.3,565.6 L149.3,565.6 L195.3,593.4 L241.3,591" fill="none" stroke="#000000" stroke-width="1.75" stroke-dasharray="9 4.5" stroke-linejoin="round"/><rect x="55.7" y="581.4" width="3.2" height="3.2" fill="#000"/><rect x="101.7" y="564" width="3.2" height="3.2" fill="#000"/><rect x="147.7" y="564" width="3.2" height="3.2" fill="#000"/><rect x="193.7" y="591.8" width="3.2" height="3.2" fill="#000"/><rect x="239.7" y="589.4" width="3.2" height="3.2" fill="#000"/><path d="M57.3,575 L103.3,576.4 L149.3,577.4 L195.3,579.6 L241.3,592.2" fill="none" stroke="#000000" stroke-width="1.65" stroke-linejoin="round"/><circle cx="57.3" cy="575" r="1.7" fill="#000"/><circle cx="103.3" cy="576.4" r="1.7" fill="#000"/><circle cx="149.3" cy="577.4" r="1.7" fill="#000"/><circle cx="195.3" cy="579.6" r="1.7" fill="#000"/><circle cx="241.3" cy="592.2" r="1.7" fill="#000"/><circle cx="57" cy="607.5" r="1.5" fill="#111"/><circle cx="103.1" cy="609" r="1.5" fill="#111"/><path d="M149.2,606.4 l1.6,2.8 h-3.2 z" fill="#111"/><path d="M195.3,608.9 l1.6,2.8 h-3.2 z" fill="#111"/><circle cx="241.4" cy="609.2" r="1.5" fill="#111"/><line x1="40.8" y1="652.3" x2="44.4" y2="652.3" stroke="#7a7a7a" stroke-width="1.4"/><line x1="46.4" y1="652.3" x2="51.2" y2="652.3" stroke="#7a7a7a" stroke-width="1.4"/><line x1="53" y1="652.3" x2="57" y2="652.3" stroke="#7a7a7a" stroke-width="1.4"/><path d="M48.8,651.1 l1.3,2.4 h-2.6 z" fill="#777"/><text x="59.4" y="654" font-size="7" fill="#383838" stroke="#383838" stroke-width="0.36">Control - Intermediate</text><line x1="40.8" y1="663" x2="57.4" y2="663" stroke="#a8a8a8" stroke-width="1.4"/><line x1="49.1" y1="661.7" x2="49.1" y2="664.3" stroke="#a0a0a0" stroke-width="0.8"/><text x="59.4" y="664.7" font-size="7" fill="#383838" stroke="#383838" stroke-width="0.36">Control - Evening</text><line x1="137.8" y1="652.3" x2="148.4" y2="652.3" stroke="#000" stroke-width="1.6"/><line x1="153" y1="652.3" x2="154.6" y2="652.3" stroke="#000" stroke-width="1.6"/><rect x="143.7" y="650.6" width="3.4" height="3.4" fill="#000"/><text x="156.2" y="654" font-size="7" fill="#383838" stroke="#383838" stroke-width="0.36">Intervention - Intermediate</text><line x1="137.8" y1="663" x2="154.4" y2="663" stroke="#000" stroke-width="1.7"/><circle cx="145.8" cy="663" r="1.7" fill="#000"/><text x="156.2" y="664.7" font-size="7" fill="#383838" stroke="#383838" stroke-width="0.36">Intervention - Evening</text></g>
<g><text x="307" y="473.4" font-size="9.8" font-weight="bold" fill="#000">F</text><text x="373.4" y="473.4" font-size="9.85" font-weight="bold" fill="#000">Subjective Sleepiness</text><text x="294" y="499.95" font-size="6.8" fill="#383838" text-anchor="end" stroke="#383838" stroke-width="0.36">7</text><text x="294" y="518.95" font-size="6.8" fill="#383838" text-anchor="end" stroke="#383838" stroke-width="0.36">6</text><text x="294" y="537.55" font-size="6.8" fill="#383838" text-anchor="end" stroke="#383838" stroke-width="0.36">5</text><text x="294" y="556.95" font-size="6.8" fill="#383838" text-anchor="end" stroke="#383838" stroke-width="0.36">4</text><text x="294" y="575.55" font-size="6.8" fill="#383838" text-anchor="end" stroke="#383838" stroke-width="0.36">3</text><text x="294" y="595.55" font-size="6.8" fill="#383838" text-anchor="end" stroke="#383838" stroke-width="0.36">2</text><text x="294" y="613.95" font-size="6.8" fill="#383838" text-anchor="end" stroke="#383838" stroke-width="0.36">1</text><text x="294" y="632.35" font-size="6.8" fill="#383838" text-anchor="end" stroke="#383838" stroke-width="0.36">0</text><text transform="translate(285.4,565) rotate(-90)" x="0" y="2.4" font-size="7" fill="#3a3a3a" text-anchor="middle" stroke="#3a3a3a" stroke-width="0.2">SSS score</text><line x1="299.25" y1="631" x2="536.75" y2="631" stroke="#d9d9d9" stroke-width="1"/><text x="323" y="640.3" font-size="6.9" fill="#383838" text-anchor="middle" stroke="#383838" stroke-width="0.36">5 min</text><text x="370.5" y="640.3" font-size="6.9" fill="#383838" text-anchor="middle" stroke="#383838" stroke-width="0.36">15 min</text><text x="418" y="640.3" font-size="6.9" fill="#383838" text-anchor="middle" stroke="#383838" stroke-width="0.36">30 min</text><text x="465.5" y="640.3" font-size="6.9" fill="#383838" text-anchor="middle" stroke="#383838" stroke-width="0.36">60 min</text><text x="513" y="640.3" font-size="6.9" fill="#383838" text-anchor="middle" stroke="#383838" stroke-width="0.36">90 min</text><line x1="323" y1="508.4" x2="323" y2="570.4" stroke="#4d4d4d" stroke-width="1.2"/><line x1="321.5" y1="508.4" x2="324.5" y2="508.4" stroke="#4a4a4a" stroke-width="1"/><line x1="321.5" y1="570.4" x2="324.5" y2="570.4" stroke="#4a4a4a" stroke-width="1"/><line x1="321.5" y1="570.4" x2="324.5" y2="570.4" stroke="#4a4a4a" stroke-width="1"/><line x1="321.5" y1="564.69" x2="324.5" y2="564.69" stroke="#4a4a4a" stroke-width="1"/><line x1="321.5" y1="518.18" x2="324.5" y2="518.18" stroke="#4a4a4a" stroke-width="1"/><line x1="321.5" y1="523.45" x2="324.5" y2="523.45" stroke="#4a4a4a" stroke-width="1"/><line x1="370.5" y1="525.6" x2="370.5" y2="579.6" stroke="#4d4d4d" stroke-width="1.2"/><line x1="369" y1="525.6" x2="372" y2="525.6" stroke="#4a4a4a" stroke-width="1"/><line x1="369" y1="579.6" x2="372" y2="579.6" stroke="#4a4a4a" stroke-width="1"/><line x1="369" y1="574.76" x2="372" y2="574.76" stroke="#4a4a4a" stroke-width="1"/><line x1="369" y1="525.66" x2="372" y2="525.66" stroke="#4a4a4a" stroke-width="1"/><line x1="369" y1="571.54" x2="372" y2="571.54" stroke="#4a4a4a" stroke-width="1"/><line x1="369" y1="537.53" x2="372" y2="537.53" stroke="#4a4a4a" stroke-width="1"/><line x1="369" y1="576.47" x2="372" y2="576.47" stroke="#4a4a4a" stroke-width="1"/><line x1="369" y1="525.6" x2="372" y2="525.6" stroke="#4a4a4a" stroke-width="1"/><line x1="418" y1="540.4" x2="418" y2="590.4" stroke="#4d4d4d" stroke-width="1.2"/><line x1="416.5" y1="540.4" x2="419.5" y2="540.4" stroke="#4a4a4a" stroke-width="1"/><line x1="416.5" y1="590.4" x2="419.5" y2="590.4" stroke="#4a4a4a" stroke-width="1"/><line x1="416.5" y1="582.24" x2="419.5" y2="582.24" stroke="#4a4a4a" stroke-width="1"/><line x1="416.5" y1="542.77" x2="419.5" y2="542.77" stroke="#4a4a4a" stroke-width="1"/><line x1="416.5" y1="579.23" x2="419.5" y2="579.23" stroke="#4a4a4a" stroke-width="1"/><line x1="416.5" y1="540.4" x2="419.5" y2="540.4" stroke="#4a4a4a" stroke-width="1"/><line x1="416.5" y1="545.05" x2="419.5" y2="545.05" stroke="#4a4a4a" stroke-width="1"/><line x1="465.5" y1="555" x2="465.5" y2="604.4" stroke="#4d4d4d" stroke-width="1.2"/><line x1="464" y1="555" x2="467" y2="555" stroke="#4a4a4a" stroke-width="1"/><line x1="464" y1="604.4" x2="467" y2="604.4" stroke="#4a4a4a" stroke-width="1"/><line x1="464" y1="556.77" x2="467" y2="556.77" stroke="#4a4a4a" stroke-width="1"/><line x1="464" y1="593.23" x2="467" y2="593.23" stroke="#4a4a4a" stroke-width="1"/><line x1="464" y1="604.4" x2="467" y2="604.4" stroke="#4a4a4a" stroke-width="1"/><line x1="464" y1="558.84" x2="467" y2="558.84" stroke="#4a4a4a" stroke-width="1"/><line x1="464" y1="563.68" x2="467" y2="563.68" stroke="#4a4a4a" stroke-width="1"/><line x1="513" y1="572.6" x2="513" y2="612.4" stroke="#4d4d4d" stroke-width="1.2"/><line x1="511.5" y1="572.6" x2="514.5" y2="572.6" stroke="#4a4a4a" stroke-width="1"/><line x1="511.5" y1="612.4" x2="514.5" y2="612.4" stroke="#4a4a4a" stroke-width="1"/><line x1="511.5" y1="612.4" x2="514.5" y2="612.4" stroke="#4a4a4a" stroke-width="1"/><line x1="511.5" y1="575.4" x2="514.5" y2="575.4" stroke="#4a4a4a" stroke-width="1"/><line x1="511.5" y1="609.8" x2="514.5" y2="609.8" stroke="#4a4a4a" stroke-width="1"/><line x1="511.5" y1="578.29" x2="514.5" y2="578.29" stroke="#4a4a4a" stroke-width="1"/><line x1="511.5" y1="610.71" x2="514.5" y2="610.71" stroke="#4a4a4a" stroke-width="1"/><line x1="511.5" y1="581.87" x2="514.5" y2="581.87" stroke="#4a4a4a" stroke-width="1"/><line x1="511.5" y1="612.13" x2="514.5" y2="612.13" stroke="#4a4a4a" stroke-width="1"/><path d="M323,528 L370.5,545 L418,559 L465.5,575 L513,591.5" fill="none" stroke="#b4b4b4" stroke-width="1.25" stroke-linejoin="round"/><circle cx="323" cy="528" r="0.9" fill="#bdbdbd"/><circle cx="370.5" cy="545" r="0.9" fill="#bdbdbd"/><circle cx="418" cy="559" r="0.9" fill="#bdbdbd"/><circle cx="465.5" cy="575" r="0.9" fill="#bdbdbd"/><circle cx="513" cy="591.5" r="0.9" fill="#bdbdbd"/><path d="M323,546 L370.5,557 L418,569.6 L465.5,582.4 L513,594.5" fill="none" stroke="#808080" stroke-width="1.25" stroke-dasharray="3.6 2.6" stroke-linejoin="round"/><path d="M323,544.6 l1.3,2.2 h-2.6 z" fill="#8f8f8f"/><path d="M370.5,555.6 l1.3,2.2 h-2.6 z" fill="#8f8f8f"/><path d="M418,568.2 l1.3,2.2 h-2.6 z" fill="#8f8f8f"/><path d="M465.5,581 l1.3,2.2 h-2.6 z" fill="#8f8f8f"/><path d="M513,593.1 l1.3,2.2 h-2.6 z" fill="#8f8f8f"/><path d="M323,548 L370.5,559.6 L418,573.6 L465.5,588.4 L513,597" fill="none" stroke="#000000" stroke-width="1.75" stroke-dasharray="9 4.5" stroke-linejoin="round"/><rect x="321.4" y="546.4" width="3.2" height="3.2" fill="#000"/><rect x="368.9" y="558" width="3.2" height="3.2" fill="#000"/><rect x="416.4" y="572" width="3.2" height="3.2" fill="#000"/><rect x="463.9" y="586.8" width="3.2" height="3.2" fill="#000"/><rect x="511.4" y="595.4" width="3.2" height="3.2" fill="#000"/><path d="M323,529.6 L370.5,548.6 L418,561 L465.5,577 L513,592.6" fill="none" stroke="#000000" stroke-width="1.65" stroke-linejoin="round"/><circle cx="323" cy="529.6" r="1.7" fill="#000"/><circle cx="370.5" cy="548.6" r="1.7" fill="#000"/><circle cx="418" cy="561" r="1.7" fill="#000"/><circle cx="465.5" cy="577" r="1.7" fill="#000"/><circle cx="513" cy="592.6" r="1.7" fill="#000"/><line x1="313.9" y1="652.4" x2="317.5" y2="652.4" stroke="#7a7a7a" stroke-width="1.4"/><line x1="319.5" y1="652.4" x2="324.3" y2="652.4" stroke="#7a7a7a" stroke-width="1.4"/><line x1="326.1" y1="652.4" x2="330.1" y2="652.4" stroke="#7a7a7a" stroke-width="1.4"/><path d="M321.9,651.2 l1.3,2.4 h-2.6 z" fill="#777"/><text x="332" y="654.1" font-size="7" fill="#383838" stroke="#383838" stroke-width="0.36">Control - Intermediate</text><line x1="313.9" y1="663" x2="330.5" y2="663" stroke="#a8a8a8" stroke-width="1.4"/><line x1="322.2" y1="661.7" x2="322.2" y2="664.3" stroke="#a0a0a0" stroke-width="0.8"/><text x="332" y="664.7" font-size="7" fill="#383838" stroke="#383838" stroke-width="0.36">Control - Evening</text><line x1="411" y1="652.4" x2="421.6" y2="652.4" stroke="#000" stroke-width="1.6"/><line x1="426.2" y1="652.4" x2="427.8" y2="652.4" stroke="#000" stroke-width="1.6"/><rect x="416.9" y="650.7" width="3.4" height="3.4" fill="#000"/><text x="428.9" y="654.1" font-size="7" fill="#383838" stroke="#383838" stroke-width="0.36">Intervention - Intermediate</text><line x1="411" y1="663" x2="427.6" y2="663" stroke="#000" stroke-width="1.7"/><circle cx="419" cy="663" r="1.7" fill="#000"/><text x="428.9" y="664.7" font-size="7" fill="#383838" stroke="#383838" stroke-width="0.36">Intervention - Evening</text></g>
<g><text x="49.6" y="704.7" font-size="9.8" font-weight="bold" fill="#000">G</text><text x="117.7" y="704.7" font-size="10.05" font-weight="bold" fill="#000">Positive Affect</text><text x="25" y="730.55" font-size="6.8" fill="#383838" text-anchor="end" stroke="#383838" stroke-width="0.36">45</text><text x="25" y="744.95" font-size="6.8" fill="#383838" text-anchor="end" stroke="#383838" stroke-width="0.36">40</text><text x="25" y="759.95" font-size="6.8" fill="#383838" text-anchor="end" stroke="#383838" stroke-width="0.36">35</text><text x="25" y="775.35" font-size="6.8" fill="#383838" text-anchor="end" stroke="#383838" stroke-width="0.36">30</text><text x="25" y="790.35" font-size="6.8" fill="#383838" text-anchor="end" stroke="#383838" stroke-width="0.36">25</text><text x="25" y="804.95" font-size="6.8" fill="#383838" text-anchor="end" stroke="#383838" stroke-width="0.36">20</text><text x="25" y="819.95" font-size="6.8" fill="#383838" text-anchor="end" stroke="#383838" stroke-width="0.36">15</text><text x="25" y="834.95" font-size="6.8" fill="#383838" text-anchor="end" stroke="#383838" stroke-width="0.36">10</text><text x="25" y="849.95" font-size="6.8" fill="#383838" text-anchor="end" stroke="#383838" stroke-width="0.36">5</text><text x="25" y="864.95" font-size="6.8" fill="#383838" text-anchor="end" stroke="#383838" stroke-width="0.36">0</text><text transform="translate(12.4,796) rotate(-90)" x="0" y="2.4" font-size="7" fill="#3a3a3a" text-anchor="middle" stroke="#3a3a3a" stroke-width="0.2">Positive Affect  score</text><line x1="30.3" y1="863.3" x2="267.2" y2="863.3" stroke="#d9d9d9" stroke-width="1"/><text x="53.99" y="872.9" font-size="6.9" fill="#383838" text-anchor="middle" stroke="#383838" stroke-width="0.36">5 min</text><text x="101.37" y="872.9" font-size="6.9" fill="#383838" text-anchor="middle" stroke="#383838" stroke-width="0.36">15 min</text><text x="148.75" y="872.9" font-size="6.9" fill="#383838" text-anchor="middle" stroke="#383838" stroke-width="0.36">30 min</text><text x="196.13" y="872.9" font-size="6.9" fill="#383838" text-anchor="middle" stroke="#383838" stroke-width="0.36">60 min</text><text x="243.51" y="872.9" font-size="6.9" fill="#383838" text-anchor="middle" stroke="#383838" stroke-width="0.36">90 min</text><line x1="53.99" y1="795" x2="53.99" y2="844" stroke="#4d4d4d" stroke-width="1.2"/><line x1="52.49" y1="795" x2="55.49" y2="795" stroke="#4a4a4a" stroke-width="1"/><line x1="52.49" y1="844" x2="55.49" y2="844" stroke="#4a4a4a" stroke-width="1"/><line x1="52.49" y1="844" x2="55.49" y2="844" stroke="#4a4a4a" stroke-width="1"/><line x1="52.49" y1="795.64" x2="55.49" y2="795.64" stroke="#4a4a4a" stroke-width="1"/><line x1="52.49" y1="840.36" x2="55.49" y2="840.36" stroke="#4a4a4a" stroke-width="1"/><line x1="52.49" y1="799.11" x2="55.49" y2="799.11" stroke="#4a4a4a" stroke-width="1"/><line x1="52.49" y1="837.29" x2="55.49" y2="837.29" stroke="#4a4a4a" stroke-width="1"/><line x1="52.49" y1="802.53" x2="55.49" y2="802.53" stroke="#4a4a4a" stroke-width="1"/><line x1="52.49" y1="834.27" x2="55.49" y2="834.27" stroke="#4a4a4a" stroke-width="1"/><line x1="101.37" y1="787.6" x2="101.37" y2="836.6" stroke="#4d4d4d" stroke-width="1.2"/><line x1="99.87" y1="787.6" x2="102.87" y2="787.6" stroke="#4a4a4a" stroke-width="1"/><line x1="99.87" y1="836.6" x2="102.87" y2="836.6" stroke="#4a4a4a" stroke-width="1"/><line x1="99.87" y1="832.18" x2="102.87" y2="832.18" stroke="#4a4a4a" stroke-width="1"/><line x1="99.87" y1="791.19" x2="102.87" y2="791.19" stroke="#4a4a4a" stroke-width="1"/><line x1="99.87" y1="829.81" x2="102.87" y2="829.81" stroke="#4a4a4a" stroke-width="1"/><line x1="99.87" y1="795.13" x2="102.87" y2="795.13" stroke="#4a4a4a" stroke-width="1"/><line x1="99.87" y1="826.87" x2="102.87" y2="826.87" stroke="#4a4a4a" stroke-width="1"/><line x1="99.87" y1="836.6" x2="102.87" y2="836.6" stroke="#4a4a4a" stroke-width="1"/><line x1="148.75" y1="771" x2="148.75" y2="830.6" stroke="#4d4d4d" stroke-width="1.2"/><line x1="147.25" y1="771" x2="150.25" y2="771" stroke="#4a4a4a" stroke-width="1"/><line x1="147.25" y1="830.6" x2="150.25" y2="830.6" stroke="#4a4a4a" stroke-width="1"/><line x1="147.25" y1="774.92" x2="150.25" y2="774.92" stroke="#4a4a4a" stroke-width="1"/><line x1="147.25" y1="822.28" x2="150.25" y2="822.28" stroke="#4a4a4a" stroke-width="1"/><line x1="147.25" y1="782.59" x2="150.25" y2="782.59" stroke="#4a4a4a" stroke-width="1"/><line x1="147.25" y1="820.41" x2="150.25" y2="820.41" stroke="#4a4a4a" stroke-width="1"/><line x1="147.25" y1="771" x2="150.25" y2="771" stroke="#4a4a4a" stroke-width="1"/><line x1="147.25" y1="775.76" x2="150.25" y2="775.76" stroke="#4a4a4a" stroke-width="1"/><line x1="196.13" y1="757.6" x2="196.13" y2="823" stroke="#4d4d4d" stroke-width="1.2"/><line x1="194.63" y1="757.6" x2="197.63" y2="757.6" stroke="#4a4a4a" stroke-width="1"/><line x1="194.63" y1="823" x2="197.63" y2="823" stroke="#4a4a4a" stroke-width="1"/><line x1="194.63" y1="764.68" x2="197.63" y2="764.68" stroke="#4a4a4a" stroke-width="1"/><line x1="194.63" y1="809.32" x2="197.63" y2="809.32" stroke="#4a4a4a" stroke-width="1"/><line x1="194.63" y1="823" x2="197.63" y2="823" stroke="#4a4a4a" stroke-width="1"/><line x1="194.63" y1="762.21" x2="197.63" y2="762.21" stroke="#4a4a4a" stroke-width="1"/><line x1="194.63" y1="818.79" x2="197.63" y2="818.79" stroke="#4a4a4a" stroke-width="1"/><line x1="194.63" y1="766.96" x2="197.63" y2="766.96" stroke="#4a4a4a" stroke-width="1"/><line x1="194.63" y1="820.24" x2="197.63" y2="820.24" stroke="#4a4a4a" stroke-width="1"/><line x1="243.51" y1="738.1" x2="243.51" y2="814.1" stroke="#4d4d4d" stroke-width="1.2"/><line x1="242.01" y1="738.1" x2="245.01" y2="738.1" stroke="#4a4a4a" stroke-width="1"/><line x1="242.01" y1="814.1" x2="245.01" y2="814.1" stroke="#4a4a4a" stroke-width="1"/><line x1="242.01" y1="738.1" x2="245.01" y2="738.1" stroke="#4a4a4a" stroke-width="1"/><line x1="242.01" y1="743.45" x2="245.01" y2="743.45" stroke="#4a4a4a" stroke-width="1"/><line x1="242.01" y1="809.15" x2="245.01" y2="809.15" stroke="#4a4a4a" stroke-width="1"/><line x1="242.01" y1="748.47" x2="245.01" y2="748.47" stroke="#4a4a4a" stroke-width="1"/><line x1="242.01" y1="807.53" x2="245.01" y2="807.53" stroke="#4a4a4a" stroke-width="1"/><line x1="242.01" y1="754.06" x2="245.01" y2="754.06" stroke="#4a4a4a" stroke-width="1"/><line x1="242.01" y1="806.14" x2="245.01" y2="806.14" stroke="#4a4a4a" stroke-width="1"/><path d="M53.99,818 C61.89,816.75 85.58,813.25 101.37,810.5 C117.16,807.75 132.96,805 148.75,801.5 C164.54,798 180.34,793.42 196.13,789.5 C211.92,785.58 235.61,779.92 243.51,778" fill="none" stroke="#b4b4b4" stroke-width="1.25" stroke-linejoin="round"/><circle cx="53.99" cy="818" r="0.9" fill="#bdbdbd"/><circle cx="101.37" cy="810.5" r="0.9" fill="#bdbdbd"/><circle cx="148.75" cy="801.5" r="0.9" fill="#bdbdbd"/><circle cx="196.13" cy="789.5" r="0.9" fill="#bdbdbd"/><circle cx="243.51" cy="778" r="0.9" fill="#bdbdbd"/><path d="M53.99,818.2 C61.89,817 85.58,813.62 101.37,811 C117.16,808.38 132.96,805.92 148.75,802.5 C164.54,799.08 180.34,794.23 196.13,790.5 C211.92,786.77 235.61,781.83 243.51,780.1" fill="none" stroke="#808080" stroke-width="1.25" stroke-dasharray="3.6 2.6" stroke-linejoin="round"/><path d="M53.99,816.8 l1.3,2.2 h-2.6 z" fill="#8f8f8f"/><path d="M101.37,809.6 l1.3,2.2 h-2.6 z" fill="#8f8f8f"/><path d="M148.75,801.1 l1.3,2.2 h-2.6 z" fill="#8f8f8f"/><path d="M196.13,789.1 l1.3,2.2 h-2.6 z" fill="#8f8f8f"/><path d="M243.51,778.7 l1.3,2.2 h-2.6 z" fill="#8f8f8f"/><path d="M53.99,812 C61.89,810.83 85.58,807.23 101.37,805 C117.16,802.77 132.96,801.6 148.75,798.6 C164.54,795.6 180.34,790.72 196.13,787 C211.92,783.28 235.61,778.08 243.51,776.3" fill="none" stroke="#000000" stroke-width="1.75" stroke-dasharray="9 4.5" stroke-linejoin="round"/><rect x="52.39" y="810.4" width="3.2" height="3.2" fill="#000"/><rect x="99.77" y="803.4" width="3.2" height="3.2" fill="#000"/><rect x="147.15" y="797" width="3.2" height="3.2" fill="#000"/><rect x="194.53" y="785.4" width="3.2" height="3.2" fill="#000"/><rect x="241.91" y="774.7" width="3.2" height="3.2" fill="#000"/><path d="M53.99,818.4 C61.89,817.23 85.58,813.63 101.37,811.4 C117.16,809.17 132.96,807.97 148.75,805 C164.54,802.03 180.34,798.38 196.13,793.6 C211.92,788.82 235.61,779.18 243.51,776.3" fill="none" stroke="#000000" stroke-width="1.65" stroke-linejoin="round"/><circle cx="53.99" cy="818.4" r="1.7" fill="#000"/><circle cx="101.37" cy="811.4" r="1.7" fill="#000"/><circle cx="148.75" cy="805" r="1.7" fill="#000"/><circle cx="196.13" cy="793.6" r="1.7" fill="#000"/><circle cx="243.51" cy="776.3" r="1.7" fill="#000"/><line x1="41.9" y1="883.8" x2="45.5" y2="883.8" stroke="#7a7a7a" stroke-width="1.4"/><line x1="47.5" y1="883.8" x2="52.3" y2="883.8" stroke="#7a7a7a" stroke-width="1.4"/><line x1="54.1" y1="883.8" x2="58.1" y2="883.8" stroke="#7a7a7a" stroke-width="1.4"/><path d="M49.9,882.6 l1.3,2.4 h-2.6 z" fill="#777"/><text x="59.8" y="885.5" font-size="7.12" fill="#383838" stroke="#383838" stroke-width="0.36">Control - Intermediate</text><line x1="41.9" y1="895.1" x2="58.5" y2="895.1" stroke="#a8a8a8" stroke-width="1.4"/><line x1="50.2" y1="893.8" x2="50.2" y2="896.4" stroke="#a0a0a0" stroke-width="0.8"/><text x="59.8" y="896.8" font-size="7.12" fill="#383838" stroke="#383838" stroke-width="0.36">Control - Evening</text><line x1="139.3" y1="883.8" x2="149.9" y2="883.8" stroke="#000" stroke-width="1.6"/><line x1="154.5" y1="883.8" x2="156.1" y2="883.8" stroke="#000" stroke-width="1.6"/><circle cx="146.9" cy="883.8" r="1.7" fill="#000"/><text x="157" y="885.5" font-size="7.12" fill="#383838" stroke="#383838" stroke-width="0.36">Intervention - Intermediate</text><line x1="139.3" y1="895.1" x2="155.9" y2="895.1" stroke="#000" stroke-width="1.7"/><path d="M147.3,893.2 l1.9,3.1 h-3.8 z" fill="#000"/><text x="157" y="896.8" font-size="7.12" fill="#383838" stroke="#383838" stroke-width="0.36">Intervention - Evening</text></g>
<g><text x="314.5" y="704.7" font-size="9.8" font-weight="bold" fill="#000">H</text><text x="383.3" y="704.7" font-size="10" font-weight="bold" fill="#000">Negative Affect</text><text x="300" y="730.55" font-size="6.8" fill="#383838" text-anchor="end" stroke="#383838" stroke-width="0.36">25</text><text x="300" y="756.95" font-size="6.8" fill="#383838" text-anchor="end" stroke="#383838" stroke-width="0.36">20</text><text x="300" y="784.35" font-size="6.8" fill="#383838" text-anchor="end" stroke="#383838" stroke-width="0.36">15</text><text x="300" y="810.95" font-size="6.8" fill="#383838" text-anchor="end" stroke="#383838" stroke-width="0.36">10</text><text x="300" y="837.95" font-size="6.8" fill="#383838" text-anchor="end" stroke="#383838" stroke-width="0.36">5</text><text x="300" y="864.95" font-size="6.8" fill="#383838" text-anchor="end" stroke="#383838" stroke-width="0.36">0</text><text transform="translate(287.4,796) rotate(-90)" x="0" y="2.4" font-size="7" fill="#3a3a3a" text-anchor="middle" stroke="#3a3a3a" stroke-width="0.2">Negative Affect score</text><line x1="305.3" y1="863.5" x2="541.9" y2="863.5" stroke="#d9d9d9" stroke-width="1"/><text x="328.96" y="872.9" font-size="6.9" fill="#383838" text-anchor="middle" stroke="#383838" stroke-width="0.36">5 min</text><text x="376.28" y="872.9" font-size="6.9" fill="#383838" text-anchor="middle" stroke="#383838" stroke-width="0.36">15 min</text><text x="423.6" y="872.9" font-size="6.9" fill="#383838" text-anchor="middle" stroke="#383838" stroke-width="0.36">30 min</text><text x="470.92" y="872.9" font-size="6.9" fill="#383838" text-anchor="middle" stroke="#383838" stroke-width="0.36">60 min</text><text x="518.24" y="872.9" font-size="6.9" fill="#383838" text-anchor="middle" stroke="#383838" stroke-width="0.36">90 min</text><line x1="328.96" y1="743.4" x2="328.96" y2="818.8" stroke="#4d4d4d" stroke-width="1.2"/><line x1="327.46" y1="743.4" x2="330.46" y2="743.4" stroke="#4a4a4a" stroke-width="1"/><line x1="327.46" y1="818.8" x2="330.46" y2="818.8" stroke="#4a4a4a" stroke-width="1"/><line x1="327.46" y1="818.8" x2="330.46" y2="818.8" stroke="#4a4a4a" stroke-width="1"/><line x1="327.46" y1="812.42" x2="330.46" y2="812.42" stroke="#4a4a4a" stroke-width="1"/><line x1="327.46" y1="754.79" x2="330.46" y2="754.79" stroke="#4a4a4a" stroke-width="1"/><line x1="327.46" y1="761.94" x2="330.46" y2="761.94" stroke="#4a4a4a" stroke-width="1"/><line x1="376.28" y1="747.5" x2="376.28" y2="816" stroke="#4d4d4d" stroke-width="1.2"/><line x1="374.78" y1="747.5" x2="377.78" y2="747.5" stroke="#4a4a4a" stroke-width="1"/><line x1="374.78" y1="816" x2="377.78" y2="816" stroke="#4a4a4a" stroke-width="1"/><line x1="374.78" y1="810.54" x2="377.78" y2="810.54" stroke="#4a4a4a" stroke-width="1"/><line x1="374.78" y1="753.36" x2="377.78" y2="753.36" stroke="#4a4a4a" stroke-width="1"/><line x1="374.78" y1="806.64" x2="377.78" y2="806.64" stroke="#4a4a4a" stroke-width="1"/><line x1="374.78" y1="765.25" x2="377.78" y2="765.25" stroke="#4a4a4a" stroke-width="1"/><line x1="374.78" y1="747.5" x2="377.78" y2="747.5" stroke="#4a4a4a" stroke-width="1"/><line x1="423.6" y1="765.2" x2="423.6" y2="818.2" stroke="#4d4d4d" stroke-width="1.2"/><line x1="422.1" y1="765.2" x2="425.1" y2="765.2" stroke="#4a4a4a" stroke-width="1"/><line x1="422.1" y1="818.2" x2="425.1" y2="818.2" stroke="#4a4a4a" stroke-width="1"/><line x1="422.1" y1="809.7" x2="425.1" y2="809.7" stroke="#4a4a4a" stroke-width="1"/><line x1="422.1" y1="767.82" x2="425.1" y2="767.82" stroke="#4a4a4a" stroke-width="1"/><line x1="422.1" y1="806.38" x2="425.1" y2="806.38" stroke="#4a4a4a" stroke-width="1"/><line x1="422.1" y1="765.2" x2="425.1" y2="765.2" stroke="#4a4a4a" stroke-width="1"/><line x1="422.1" y1="769.65" x2="425.1" y2="769.65" stroke="#4a4a4a" stroke-width="1"/><line x1="470.92" y1="767.9" x2="470.92" y2="823.2" stroke="#4d4d4d" stroke-width="1.2"/><line x1="469.42" y1="767.9" x2="472.42" y2="767.9" stroke="#4a4a4a" stroke-width="1"/><line x1="469.42" y1="823.2" x2="472.42" y2="823.2" stroke="#4a4a4a" stroke-width="1"/><line x1="469.42" y1="810.13" x2="472.42" y2="810.13" stroke="#4a4a4a" stroke-width="1"/><line x1="469.42" y1="823.2" x2="472.42" y2="823.2" stroke="#4a4a4a" stroke-width="1"/><line x1="469.42" y1="772.17" x2="472.42" y2="772.17" stroke="#4a4a4a" stroke-width="1"/><line x1="469.42" y1="776.87" x2="472.42" y2="776.87" stroke="#4a4a4a" stroke-width="1"/><line x1="518.24" y1="768.6" x2="518.24" y2="826.3" stroke="#4d4d4d" stroke-width="1.2"/><line x1="516.74" y1="768.6" x2="519.74" y2="768.6" stroke="#4a4a4a" stroke-width="1"/><line x1="516.74" y1="826.3" x2="519.74" y2="826.3" stroke="#4a4a4a" stroke-width="1"/><line x1="516.74" y1="826.3" x2="519.74" y2="826.3" stroke="#4a4a4a" stroke-width="1"/><line x1="516.74" y1="772.69" x2="519.74" y2="772.69" stroke="#4a4a4a" stroke-width="1"/><line x1="516.74" y1="822.91" x2="519.74" y2="822.91" stroke="#4a4a4a" stroke-width="1"/><line x1="516.74" y1="776.35" x2="519.74" y2="776.35" stroke="#4a4a4a" stroke-width="1"/><line x1="516.74" y1="820.45" x2="519.74" y2="820.45" stroke="#4a4a4a" stroke-width="1"/><line x1="516.74" y1="780.46" x2="519.74" y2="780.46" stroke="#4a4a4a" stroke-width="1"/><line x1="516.74" y1="819.14" x2="519.74" y2="819.14" stroke="#4a4a4a" stroke-width="1"/><path d="M328.96,772.6 L376.28,777 L423.6,785.5 L470.92,788.8 L518.24,794.3" fill="none" stroke="#b4b4b4" stroke-width="1.25" stroke-linejoin="round"/><circle cx="328.96" cy="772.6" r="0.9" fill="#bdbdbd"/><circle cx="376.28" cy="777" r="0.9" fill="#bdbdbd"/><circle cx="423.6" cy="785.5" r="0.9" fill="#bdbdbd"/><circle cx="470.92" cy="788.8" r="0.9" fill="#bdbdbd"/><circle cx="518.24" cy="794.3" r="0.9" fill="#bdbdbd"/><path d="M328.96,792.2 L376.28,795 L423.6,797 L470.92,798.4 L518.24,798.4" fill="none" stroke="#808080" stroke-width="1.25" stroke-dasharray="3.6 2.6" stroke-linejoin="round"/><path d="M328.96,790.8 l1.3,2.2 h-2.6 z" fill="#8f8f8f"/><path d="M376.28,793.6 l1.3,2.2 h-2.6 z" fill="#8f8f8f"/><path d="M423.6,795.6 l1.3,2.2 h-2.6 z" fill="#8f8f8f"/><path d="M470.92,797 l1.3,2.2 h-2.6 z" fill="#8f8f8f"/><path d="M518.24,797 l1.3,2.2 h-2.6 z" fill="#8f8f8f"/><path d="M328.96,787.2 L376.28,794.2 L423.6,796.3 L470.92,802.4 L518.24,799.8" fill="none" stroke="#000000" stroke-width="1.75" stroke-dasharray="9 4.5" stroke-linejoin="round"/><rect x="327.36" y="785.6" width="3.2" height="3.2" fill="#000"/><rect x="374.68" y="792.6" width="3.2" height="3.2" fill="#000"/><rect x="422" y="794.7" width="3.2" height="3.2" fill="#000"/><rect x="469.32" y="800.8" width="3.2" height="3.2" fill="#000"/><rect x="516.64" y="798.2" width="3.2" height="3.2" fill="#000"/><path d="M328.96,773.2 L376.28,780 L423.6,787.1 L470.92,793.6 L518.24,797.8" fill="none" stroke="#000000" stroke-width="1.65" stroke-linejoin="round"/><circle cx="328.96" cy="773.2" r="1.7" fill="#000"/><circle cx="376.28" cy="780" r="1.7" fill="#000"/><circle cx="423.6" cy="787.1" r="1.7" fill="#000"/><circle cx="470.92" cy="793.6" r="1.7" fill="#000"/><circle cx="518.24" cy="797.8" r="1.7" fill="#000"/><line x1="316.9" y1="883.8" x2="320.5" y2="883.8" stroke="#7a7a7a" stroke-width="1.4"/><line x1="322.5" y1="883.8" x2="327.3" y2="883.8" stroke="#7a7a7a" stroke-width="1.4"/><line x1="329.1" y1="883.8" x2="333.1" y2="883.8" stroke="#7a7a7a" stroke-width="1.4"/><path d="M324.9,882.6 l1.3,2.4 h-2.6 z" fill="#777"/><text x="334.8" y="885.5" font-size="7.12" fill="#383838" stroke="#383838" stroke-width="0.36">Control - Intermediate</text><line x1="316.9" y1="895.1" x2="333.5" y2="895.1" stroke="#a8a8a8" stroke-width="1.4"/><line x1="325.2" y1="893.8" x2="325.2" y2="896.4" stroke="#a0a0a0" stroke-width="0.8"/><text x="334.8" y="896.8" font-size="7.12" fill="#383838" stroke="#383838" stroke-width="0.36">Control - Evening</text><line x1="414.3" y1="883.8" x2="424.9" y2="883.8" stroke="#000" stroke-width="1.6"/><line x1="429.5" y1="883.8" x2="431.1" y2="883.8" stroke="#000" stroke-width="1.6"/><circle cx="421.9" cy="883.8" r="1.7" fill="#000"/><text x="432" y="885.5" font-size="7.12" fill="#383838" stroke="#383838" stroke-width="0.36">Intervention - Intermediate</text><line x1="414.3" y1="895.1" x2="430.9" y2="895.1" stroke="#000" stroke-width="1.7"/><path d="M422.3,893.2 l1.9,3.1 h-3.8 z" fill="#000"/><text x="432" y="896.8" font-size="7.12" fill="#383838" stroke="#383838" stroke-width="0.36">Intervention - Evening</text></g>
</svg>
</body></html>
